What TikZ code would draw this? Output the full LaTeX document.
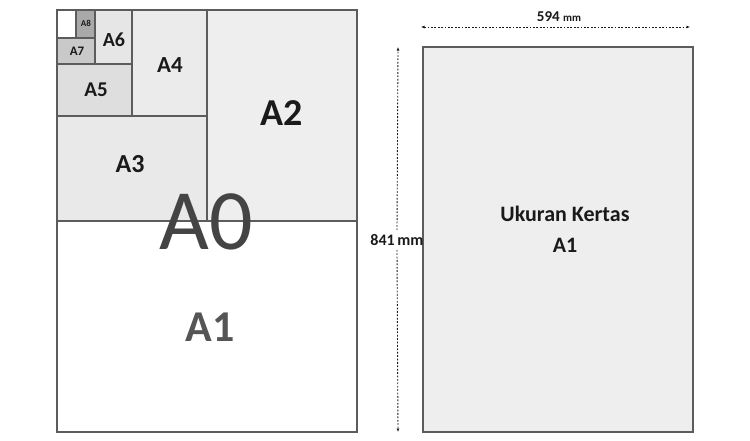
\documentclass[tikz,border=0pt]{standalone}
\usepackage{fontspec}
\setmainfont{Carlito}
\usetikzlibrary{arrows.meta}
\definecolor{edge}{HTML}{5C5C5C}
\definecolor{ink}{HTML}{1A1A1A}
\definecolor{grey}{HTML}{555555}
\definecolor{big}{HTML}{444444}
\definecolor{paper}{HTML}{EEEEEE}
\definecolor{pthree}{HTML}{E9E9E9}
\definecolor{pfour}{HTML}{EBEBEB}
\definecolor{pfive}{HTML}{DEDEDE}
\definecolor{psix}{HTML}{E6E6E6}
\definecolor{pseven}{HTML}{C9C9C9}
\definecolor{peight}{HTML}{A9A9A9}
\tikzset{
  sheet/.style={draw=edge, line width=1.1pt},
  lab/.style={text=ink, inner sep=0pt},
  dim/.style={draw=ink, line width=0.9pt, dash pattern=on 1.8pt off 1.6pt,
    {Latex[length=3.5pt,width=3pt]}-{Latex[length=3.5pt,width=3pt]}},
}
\newcommand{\fs}[1]{\fontsize{#1}{#1}\selectfont}

\begin{document}
\begin{tikzpicture}[x=1pt, y=-1pt]
  \useasboundingbox[fill=white] (0,0) rectangle (750,440);

  % A0 split into A1 ... A8
  \draw[sheet, fill=white]   (57,10)  rectangle (357,432);
  \draw[sheet, fill=paper]   (207,10) rectangle (357,221);
  \draw[sheet, fill=pthree]  (57,116) rectangle (207,221);
  \draw[sheet, fill=pfour]   (132,10) rectangle (207,116);
  \draw[sheet, fill=pfive]   (57,64)  rectangle (132,116);
  \draw[sheet, fill=psix]    (95,10)  rectangle (132,64);
  \draw[sheet, fill=pseven]  (57,38)  rectangle (95,64);
  \draw[sheet, fill=peight]  (76,10)  rectangle (95,38);

  \node[lab, text=big, font=\fs{86}] (a0) at (206,222) {A0};
  \node[lab, text=grey, font=\bfseries\fs{44}] (a1) at (210,327) {A1};
  \node[lab, font=\bfseries\fs{38}] (a2) at (282,113) {A2};
  \node[lab, font=\bfseries\fs{26}] (a3) at (130,164) {A3};
  \node[lab, font=\bfseries\fs{23}] (a4) at (170,65) {A4};
  \node[lab, font=\bfseries\fs{21}] (a5) at (96,90) {A5};
  \node[lab, font=\bfseries\fs{20}] (a6) at (114,40) {A6};
  \node[lab, font=\bfseries\fs{13}] (a7) at (77,51) {A7};
  \node[lab, font=\bfseries\fs{9}] (a8) at (86,23) {A8};

  % single A1 sheet
  \draw[sheet, fill=paper] (423,47) rectangle (693,432);
  \node[lab, font=\bfseries\fs{22}] (name) at (565,214) {Ukuran Kertas};
  \node[lab, font=\bfseries\fs{22}] (size) at (565,245) {A1};

  % dimensions
  \coordinate (wl) at (421,27);
  \coordinate (wr) at (690,27);
  \draw[dim] (wl) -- (wr);
  \node[lab, font=\bfseries\fs{15}] (width) at (559,17) {594 {\fs{11}mm}};
  \coordinate (ht) at (398,47);
  \coordinate (hb) at (398,432);
  \node[lab, font=\bfseries\fs{16}] (height) at (397,240) {841\,mm};
  \draw[dim, -{Latex[length=3.5pt,width=3pt]}] ([yshift=4pt]height.north) -- (ht);
  \draw[dim, -{Latex[length=3.5pt,width=3pt]}] ([yshift=-4pt]height.south) -- (hb);
\end{tikzpicture}
\end{document}
